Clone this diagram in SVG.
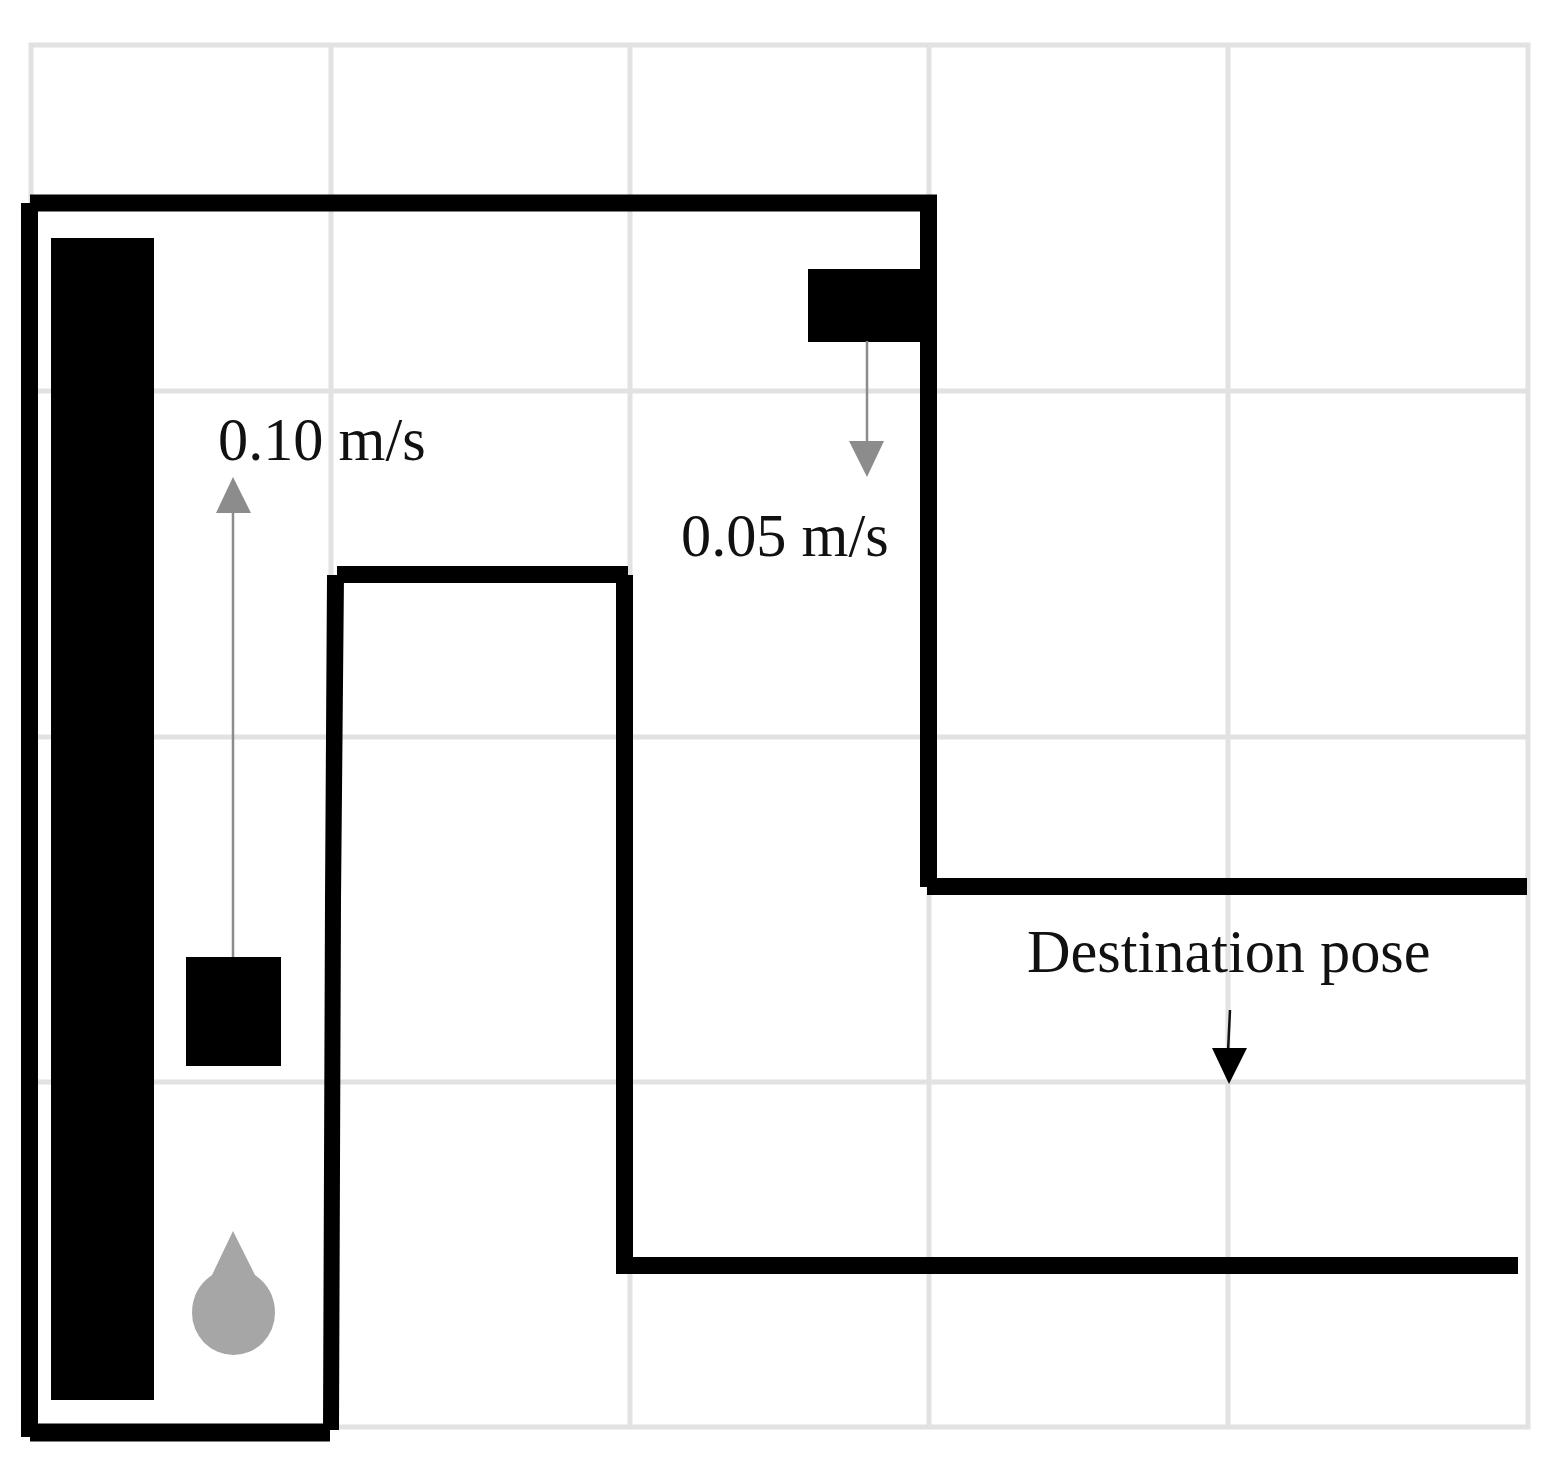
<svg xmlns="http://www.w3.org/2000/svg" width="1553" height="1466" viewBox="0 0 1553 1466">
<style>
.g{stroke:#e2e2e2;stroke-width:5;fill:none}
.w{stroke:#000;stroke-width:17;fill:none;stroke-linecap:butt}
.a{stroke:#8c8c8c;stroke-width:2.5;fill:none}
.t{font-family:"Liberation Serif",serif;font-size:60.3px;fill:#111}
</style>
<rect width="1553" height="1466" fill="#fff"/>
<g id="grid">
<path class="g" d="M31 45H1528V1427H31Z"/>
<path class="g" d="M331 45V1427M630 45V1427M929 45V1427M1228 45V1427"/>
<path class="g" d="M31 391H1528M31 737H1528M31 1082H1528"/>
</g>
<g id="walls">
<path d="M29.5 203V1437" class="w"/>
<path d="M30 203H937" class="w"/>
<path d="M928.5 203V887" class="w"/>
<path d="M927 886.5H1527" class="w"/>
<path d="M30 1432.500H330" class="w" style="stroke-width:18"/>
<path d="M327 575H344L341 900L339 1430H323L325 900Z" fill="#000"/>
<path d="M337 574.500H628" class="w"/>
<path d="M624.500 575V1274" class="w"/>
<path d="M617 1265.500H1518" class="w"/>
</g>
<rect id="shelf" x="51" y="238" width="103" height="1162" fill="#000"/>
<rect id="block-top" x="808" y="269" width="125" height="73" fill="#000"/>
<rect id="block-bottom" x="186" y="957" width="95" height="109" fill="#000"/>
<path id="drop" d="M233 1231L255 1275Q275 1289 275 1313A41.500 42 0 0 1 192 1313Q192 1289 212 1275Z" fill="#a6a6a6"/>
<g id="connectors">
<path class="a" d="M233 957V510"/>
<path d="M233 477L251 513H216Z" fill="#8c8c8c"/>
<path class="a" d="M867 341V445"/>
<path d="M867 477L849 441H884Z" fill="#8c8c8c"/>
<path d="M1230 1010L1228 1052" stroke="#111" stroke-width="2.500" fill="none"/>
<path d="M1229 1084L1212 1048H1247Z" fill="#000"/>
</g>
<text class="t" x="218" y="460">0.10 m/s</text>
<text class="t" x="681" y="556">0.05 m/s</text>
<text class="t" x="1027" y="972">Destination pose</text>
</svg>
